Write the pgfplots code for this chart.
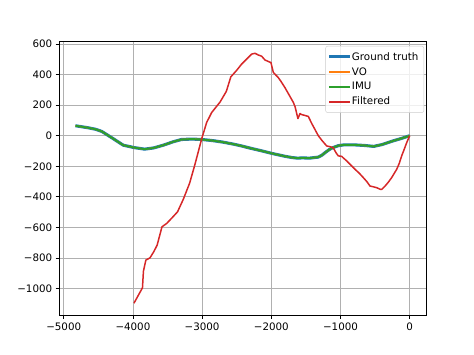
\documentclass[border=0pt]{standalone}
\usepackage{fontspec}
\setmainfont{DejaVu Sans}
\usepackage{pgfplots}
\usepackage{pgfplotstable}
\pgfplotsset{compat=1.18}
\definecolor{mplblue}{HTML}{1F77B4}
\definecolor{mplorange}{HTML}{FF7F0E}
\definecolor{mplgreen}{HTML}{2CA02C}
\definecolor{mplred}{HTML}{D62728}
\definecolor{gridgray}{HTML}{B0B0B0}
\definecolor{legframe}{HTML}{CCCCCC}

\pgfplotstableread{
x y
-4830 65
-4650 52
-4540 42
-4450 28
-4300 -15
-4140 -62
-3980 -78
-3830 -88
-3700 -80
-3560 -62
-3420 -40
-3300 -25
-3150 -22
-3000 -25
-2850 -32
-2700 -42
-2550 -55
-2450 -65
-2300 -82
-2150 -98
-2000 -115
-1900 -125
-1800 -135
-1700 -143
-1620 -147
-1550 -145
-1450 -147
-1320 -140
-1270 -128
-1220 -110
-1160 -90
-1110 -78
-1030 -65
-950 -60
-800 -60
-650 -64
-520 -70
-400 -58
-240 -34
-120 -18
0 0
}\gtdata

\pgfplotstableread{
x y
-3985 -1096
-3862 -995
-3848 -886
-3813 -814
-3753 -799
-3700 -760
-3650 -716
-3580 -596
-3512 -574
-3430 -535
-3355 -498
-3272 -416
-3180 -310
-3103 -187
-3006 -20
-2934 87
-2861 152
-2741 220
-2650 290
-2585 385
-2500 428
-2428 469
-2355 502
-2283 534
-2236 539
-2188 528
-2139 520
-2091 495
-2040 485
-2005 478
-1971 414
-1899 380
-1860 355
-1802 314
-1777 294
-1682 218
-1657 190
-1615 112
-1585 145
-1561 138
-1510 132
-1465 126
-1416 80
-1380 50
-1321 0
-1270 -30
-1200 -67
-1150 -72
-1104 -80
-1060 -115
-1032 -132
-983 -135
-960 -145
-910 -165
-863 -187
-790 -220
-730 -245
-671 -274
-620 -300
-574 -329
-520 -335
-477 -340
-430 -350
-405 -352
-357 -330
-310 -305
-260 -274
-188 -220
-150 -180
-116 -132
-80 -90
-43 -45
0 0
}\filtdata

\begin{document}
\begin{tikzpicture}
\path[use as bounding box] (0,0) rectangle (474pt,355pt);
\begin{axis}[
  at={(59.3pt,39.7pt)}, anchor=south west,
  scale only axis, width=367pt, height=273.6pt,
  xmin=-5064, xmax=240, ymin=-1175, ymax=615,
  xtick={-5000,-4000,-3000,-2000,-1000,0},
  xticklabels={−5000,−4000,−3000,−2000,−1000,0},
  ytick={-1000,-800,-600,-400,-200,0,200,400,600},
  yticklabels={−1000,−800,−600,−400,−200,0,200,400,600},
  tick label style={font=\fontsize{10.3}{12}\selectfont, text=black},
  tick align=outside, major tick length=3.6pt,
  tick style={black, line width=0.82pt},
  xtick pos=bottom, ytick pos=left,
  axis line style={black, line width=0.82pt},
  grid=major, major grid style={gridgray, line width=0.82pt},
  legend cell align=left,
  legend style={at={(rel axis cs:1,1)}, anchor=north east, xshift=-2.3pt, yshift=-4.3pt,
    draw=legframe, rounded corners=2pt, fill=white, fill opacity=0.8, text opacity=1, draw opacity=1,
    font=\fontsize{10.3}{12}\selectfont, inner xsep=3.5pt, inner ysep=3.2pt,
    nodes={inner xsep=1.8pt, inner ysep=2.9pt}},
  every axis plot/.append style={line join=round},
]
\addplot[color=mplblue, line width=3.1pt,
  legend image code/.code={\path[fill=mplblue, draw=none, fill opacity=1, sharp corners] (0pt,-1.5pt) rectangle (21pt,1.5pt);}] table[x=x,y=y] {\gtdata};
\addlegendentry{Ground truth}
\addplot[color=mplorange, line width=1.55pt,
  legend image code/.code={\path[fill=mplorange, draw=none, fill opacity=1, sharp corners] (0pt,-0.78pt) rectangle (21pt,0.78pt);}] table[x=x,y=y] {\gtdata};
\addlegendentry{VO}
\addplot[color=mplgreen, line width=1.9pt,
  legend image code/.code={\path[fill=mplgreen, draw=none, fill opacity=1, sharp corners] (0pt,-0.78pt) rectangle (21pt,0.78pt);}] table[x=x,y=y] {\gtdata};
\addlegendentry{IMU}
\addplot[color=mplred, line width=1.5pt,
  legend image code/.code={\path[fill=mplred, draw=none, fill opacity=1, sharp corners] (0pt,-0.78pt) rectangle (21pt,0.78pt);}] table[x=x,y=y] {\filtdata};
\addlegendentry{Filtered}
\end{axis}
\end{tikzpicture}
\end{document}
